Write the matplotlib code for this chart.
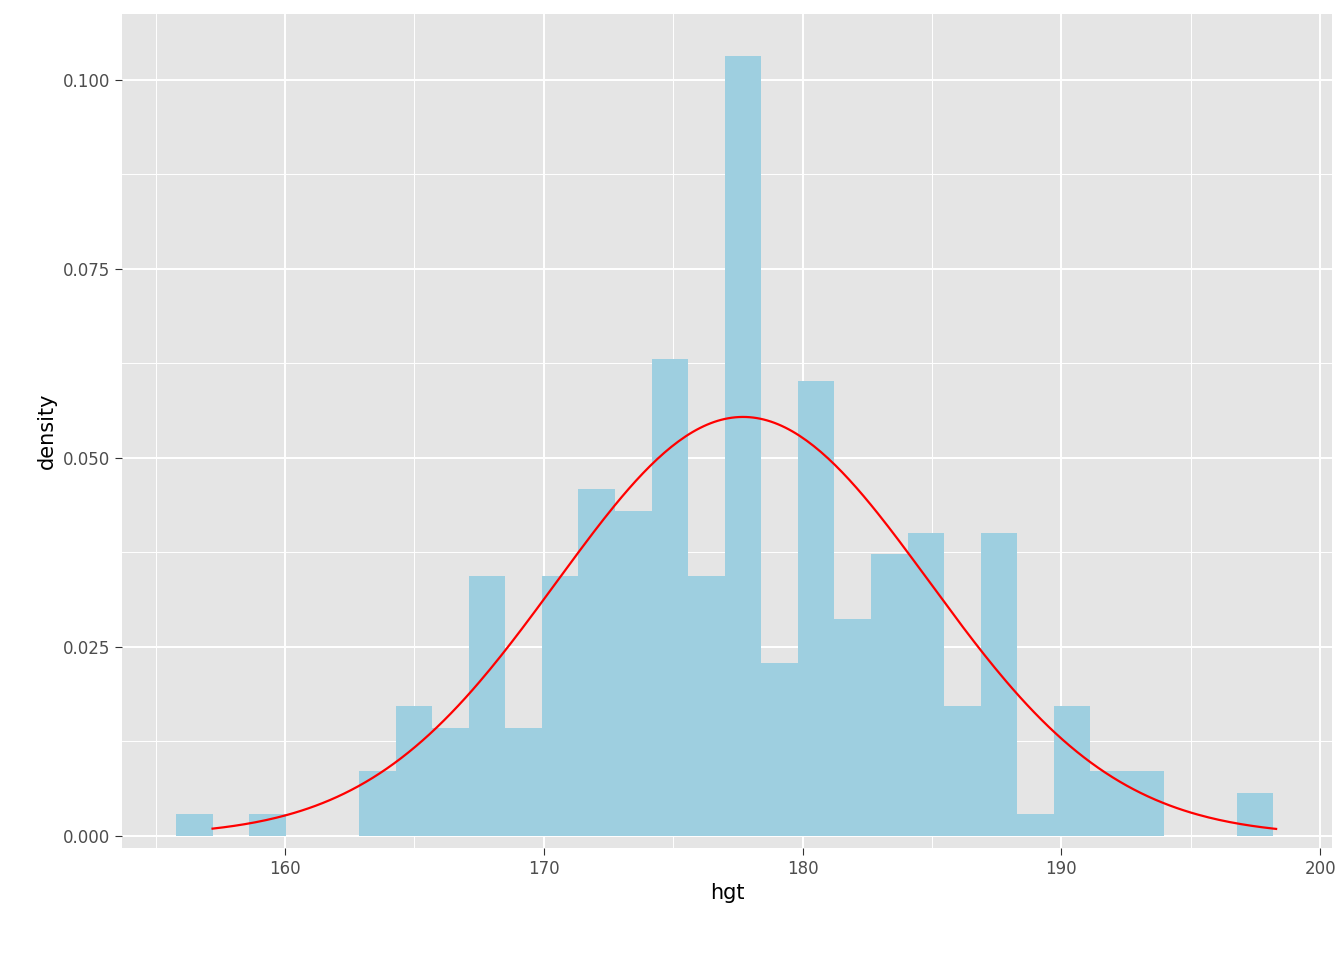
import numpy as np
import matplotlib.pyplot as plt

# histogram of hgt (30 bins), counts
bin_start = 155.79
bin_width = 1.4133
counts = [1, 0, 1, 0, 0, 3, 6, 5, 12, 5, 12, 16, 15, 22, 12, 36, 8, 21, 10, 13,
          14, 6, 14, 1, 6, 3, 3, 0, 0, 2]
mean_hgt = 177.7
sd_hgt = 7.2
hgt_min, hgt_max = 157.2, 198.3

counts = np.array(counts)
n = counts.sum()
lefts = bin_start + bin_width * np.arange(len(counts))
density = counts / (n * bin_width)

fig = plt.figure(figsize=(13.44, 9.6), dpi=100)
ax = fig.add_axes([122 / 1344, 1 - 848 / 960, 1210 / 1344, 834 / 960])
ax.set_facecolor("#e5e5e5")
for s in ax.spines.values():
    s.set_visible(False)

ax.set_xticks([160, 170, 180, 190, 200])
ax.set_xticks([155, 165, 175, 185, 195], minor=True)
ax.set_yticks([0, 0.025, 0.05, 0.075, 0.1])
ax.set_yticks([0.0125, 0.0375, 0.0625, 0.0875], minor=True)
ax.set_yticklabels(["0.000", "0.025", "0.050", "0.075", "0.100"])
ax.grid(which="major", color="white", lw=1.4)
ax.grid(which="minor", color="white", lw=0.7)
ax.set_axisbelow(True)
ax.tick_params(which="major", length=5, color="#333333", labelsize=12, labelcolor="#4d4d4d")
ax.tick_params(which="minor", length=0)

ax.bar(lefts, density, width=bin_width, align="edge", color="#9ecfe0", lw=0)

xs = np.linspace(hgt_min, hgt_max, 300)
ys = np.exp(-0.5 * ((xs - mean_hgt) / sd_hgt) ** 2) / (sd_hgt * np.sqrt(2 * np.pi))
ax.plot(xs, ys, color="red", lw=1.6)

ax.set_xlim(153.7, 200.46)
ax.set_ylim(-0.0016, 0.1087)
ax.set_xlabel("hgt", fontsize=15)
ax.set_ylabel("density", fontsize=15)

fig.savefig("out.png", dpi=100)
